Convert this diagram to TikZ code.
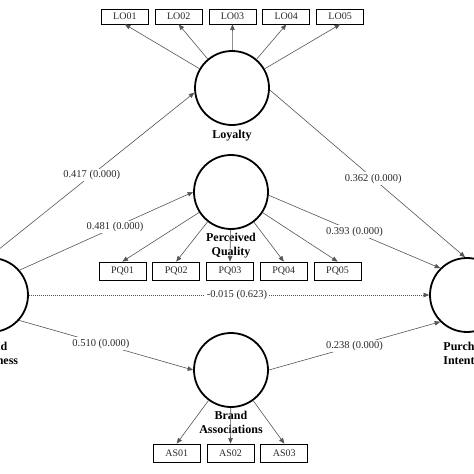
\documentclass[tikz,border=0pt]{standalone}
\usepackage{fontspec}
\setmainfont{Liberation Serif}
\usetikzlibrary{arrows.meta,positioning}
\definecolor{LineGray}{HTML}{555555}
\definecolor{TextGray}{HTML}{2A2A2A}

\begin{document}
\begin{tikzpicture}[
x={(1pt,0pt)},y={(0pt,-1pt)},
node distance=6pt,
latent/.style={circle,draw=black,line width=1.8pt,minimum size=74pt,inner sep=0pt},
lname/.style={font=\bfseries\fontsize{12}{14}\selectfont,align=center,inner sep=1pt},
ind/.style={draw=black,line width=0.8pt,minimum width=47pt,inner sep=0pt,font=\fontsize{10}{11}\selectfont,text=TextGray},
load/.style={-{Triangle[length=5.5pt,width=4.5pt]},LineGray,line width=0.6pt},
coef/.style={fill=white,inner sep=1.5pt,font=\fontsize{10.5}{12}\selectfont,text=TextGray}
]
\path[use as bounding box,fill=white] (0,0) rectangle (474,474);
\clip (0,0) rectangle (474,474);

% latent constructs
\node[latent] (loy) at (232,88) {};
\node[latent] (pq) at (231,192) {};
\node[latent] (bas) at (231,370) {};
\node[latent] (baw) at (-9,295) {};
\node[latent] (pi) at (467,295) {};
\node[lname,below=3pt of loy] (loyname) {Loyalty};
\node[lname,below=2pt of pq] (pqname) {Perceived\\Quality};
\node[lname,below=2pt of bas] (basname) {Brand\\Associations};
\node[lname,below=8pt of baw] (bawname) {Brand\\Awareness};
\node[lname,below=8pt of pi] (piname) {Purchase\\Intention};

% indicators
\node[ind,minimum height=15pt] (lo3) at (232.5,16.5) {LO03};
\node[ind,minimum height=15pt,left=6pt of lo3] (lo2) {LO02};
\node[ind,minimum height=15pt,left=6pt of lo2] (lo1) {LO01};
\node[ind,minimum height=15pt,right=6pt of lo3] (lo4) {LO04};
\node[ind,minimum height=15pt,right=6pt of lo4] (lo5) {LO05};
\node[ind,minimum height=18pt] (pq3) at (230,271) {PQ03};
\node[ind,minimum height=18pt,left=6pt of pq3] (pq2) {PQ02};
\node[ind,minimum height=18pt,left=6pt of pq2] (pq1) {PQ01};
\node[ind,minimum height=18pt,right=6pt of pq3] (pq4) {PQ04};
\node[ind,minimum height=18pt,right=6pt of pq4] (pq5) {PQ05};
\node[ind,minimum height=18pt] (as2) at (230.5,453) {AS02};
\node[ind,minimum height=18pt,left=6pt of as2] (as1) {AS01};
\node[ind,minimum height=18pt,right=6pt of as2] (as3) {AS03};

% loadings
\draw[load] (loy) -- (lo1.south);
\draw[load] (loy) -- (lo2.south);
\draw[load] (loy) -- (lo3.south);
\draw[load] (loy) -- (lo4.south);
\draw[load] (loy) -- (lo5.south);
\draw[load] (pq) -- (pq1.north);
\draw[load] (pq) -- (pq2.north);
\draw[load] (pq) -- (pq3.north);
\draw[load] (pq) -- (pq4.north);
\draw[load] (pq) -- (pq5.north);
\draw[load] (bas) -- (as1.north);
\draw[load] (bas) -- (as2.north);
\draw[load] (bas) -- (as3.north);

% structural paths
\draw[load] (baw.93) -- node[coef]{0.417 (0.000)} (loy.187);
\draw[load] (loy.357) -- node[coef,pos=0.53]{0.362 (0.000)} (pi.93);
\draw[load] (baw.41) -- node[coef,pos=0.55]{0.481 (0.000)} (pq.180);
\draw[load] (pq.355) -- node[coef]{0.393 (0.000)} (pi.135);
\draw[load,dash pattern=on 1pt off 1pt] (baw.0) -- node[coef,pos=0.52]{-0.015 (0.623)} (pi.180);
\draw[load] (baw.-42) -- node[coef,pos=0.47]{0.510 (0.000)} (bas.180);
\draw[load] (bas.0) -- node[coef]{0.238 (0.000)} (pi.225);
\end{tikzpicture}
\end{document}
